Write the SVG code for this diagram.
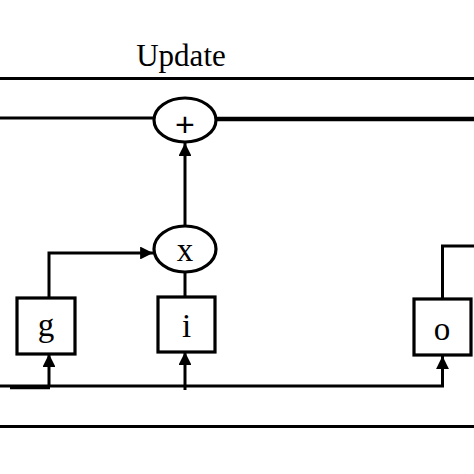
<svg xmlns="http://www.w3.org/2000/svg" width="474" height="474" viewBox="0 0 474 474">
<style>
.ln{fill:none;stroke:#000;stroke-width:3}
.nd{fill:#fff;stroke:#000;stroke-width:3.2}
.tx{font-family:"Liberation Serif","Times New Roman",serif;font-size:33px;fill:#000;text-anchor:middle}
</style>
<defs>
<marker id="ah" viewBox="0 0 10 10" refX="10" refY="5" markerWidth="4.3" markerHeight="4.3" orient="auto" markerUnits="strokeWidth">
<path d="M0,0 L10,5 L0,10 z" fill="#000"/>
</marker>
</defs>
<rect width="474" height="474" fill="#fff"/>
<text class="tx" x="181" y="66" style="font-size:31px">Update</text>
<g id="connectors">
<line class="ln" x1="0" y1="78.5" x2="474" y2="78.5"/>
<line class="ln" x1="0" y1="426.5" x2="474" y2="426.5"/>
<line class="ln" x1="0" y1="118" x2="154" y2="118"/>
<line class="ln" x1="216" y1="119" x2="474" y2="119" style="stroke-width:4.5"/>
<line class="ln" x1="185" y1="226" x2="185" y2="143" marker-end="url(#ah)"/>
<polyline class="ln" points="49,298 49,253 153,253" marker-end="url(#ah)"/>
<line class="ln" x1="185" y1="272" x2="185" y2="297"/>
<polyline class="ln" points="442.5,299 442.5,246 474,246"/>
<polyline class="ln" points="0,386 442.5,386 442.5,356" marker-end="url(#ah)"/>
<line class="ln" x1="10" y1="387.5" x2="50" y2="387.5" style="stroke-width:3.5"/>
<line class="ln" x1="49" y1="386" x2="49" y2="354" marker-end="url(#ah)"/>
<line class="ln" x1="185" y1="390" x2="185" y2="352" marker-end="url(#ah)"/>
</g>
<g id="plus">
<ellipse class="nd" cx="185" cy="120" rx="31" ry="22"/>
<text x="185" y="136" style="font-family:'Liberation Sans',Arial,sans-serif;font-size:34px;text-anchor:middle;fill:#000">+</text>
</g>
<g id="times">
<ellipse class="nd" cx="185" cy="249" rx="31" ry="23"/>
<text class="tx" x="185" y="261">x</text>
</g>
<g id="g">
<rect class="nd" x="17" y="298" width="58" height="56"/>
<text class="tx" x="46" y="336">g</text>
</g>
<g id="i">
<rect class="nd" x="158" y="297" width="57" height="55"/>
<text class="tx" x="186.5" y="337">i</text>
</g>
<g id="o">
<rect class="nd" x="414" y="299" width="57" height="56"/>
<text class="tx" x="442" y="339.5">o</text>
</g>
</svg>
